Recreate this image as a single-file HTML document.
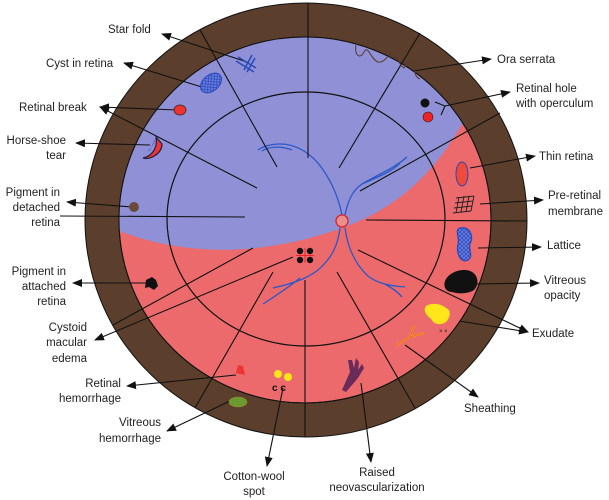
<!DOCTYPE html>
<html><head><meta charset="utf-8"><style>
html,body{margin:0;padding:0;background:#fff;}
svg{display:block;}
text{font-family:"Liberation Sans",sans-serif;font-size:11.5px;fill:#222;}
</style></head><body>
<svg width="609" height="500" viewBox="0 0 609 500" xmlns="http://www.w3.org/2000/svg">
<defs>
<marker id="a" markerWidth="10" markerHeight="8" refX="9" refY="4" orient="auto" markerUnits="userSpaceOnUse"><path d="M0,0 L10,4 L0,8 z" fill="#111"/></marker>
<clipPath id="disk"><ellipse cx="305" cy="220" rx="186" ry="183"/></clipPath>
<pattern id="hatch" width="4" height="4" patternUnits="userSpaceOnUse"><rect width="4" height="4" fill="#6f7fe0"/><path d="M0,0 L4,4 M4,0 L0,4" stroke="#2d4fc0" stroke-width="0.8"/></pattern>
</defs>
<ellipse cx="306" cy="220" rx="221" ry="217" fill="#5b3f2c" stroke="#111" stroke-width="1"/>
<ellipse cx="305" cy="220" rx="186" ry="183" fill="#ec6a6c" stroke="#111" stroke-width="1"/>
<path clip-path="url(#disk)" d="M110,0 L110,227 C180,258 260,255 330,232 C400,210 440,170 475,100 L520,0 Z" fill="#8f90d6"/>
<ellipse cx="305" cy="220" rx="186" ry="183" fill="none" stroke="#111" stroke-width="1"/>
<ellipse cx="306" cy="219" rx="139" ry="127" fill="none" stroke="#111" stroke-width="1.2"/>
<!-- vessels -->
<g fill="none" stroke="#2a58c8" stroke-width="1.3">
<path d="M342,215 C338,195 330,178 318,163 C308,152 295,144 280,144 C270,144 262,147 258,150"/>
<path d="M262,151 C270,146 282,146 292,150"/>
<path d="M345,215 C348,200 353,190 362,184 C375,176 395,168 407,157"/>
<path d="M362,184 C375,178 392,172 400,163"/>
<path d="M340,228 C338,245 332,258 318,270 C305,280 290,284 273,288"/>
<path d="M300,278 C288,288 275,296 263,304"/>
<path d="M345,228 C348,250 356,265 368,276 C378,284 392,286 405,287"/>
<path d="M385,284 C392,288 398,292 402,297"/>
</g>
<circle cx="342" cy="221" r="6" fill="#e98f8f" stroke="#d22" stroke-width="1.3"/>
<!-- spokes -->
<g stroke="#111" stroke-width="1.1" fill="none">
<line x1="277" y1="167" x2="200" y2="30"/>
<line x1="308" y1="158" x2="308" y2="3"/>
<line x1="339" y1="168" x2="420" y2="33"/>
<line x1="360" y1="191" x2="500" y2="113"/>
<line x1="366" y1="220" x2="527" y2="221"/>
<line x1="337" y1="272" x2="415" y2="408"/>
<line x1="305" y1="280" x2="305" y2="437"/>
<line x1="273" y1="272" x2="195" y2="408"/>
<line x1="253" y1="248" x2="113" y2="325"/>
<line x1="245" y1="217" x2="60" y2="216"/>
</g>
<!-- arrows -->
<g stroke="#111" stroke-width="1.1" fill="none" marker-end="url(#a)">
<line x1="257" y1="188" x2="100" y2="107"/>
<line x1="177" y1="110" x2="100" y2="107"/>
<line x1="247" y1="62" x2="162" y2="34"/>
<line x1="205" y1="88" x2="124" y2="63"/>
<line x1="150" y1="145" x2="76" y2="143"/>
<line x1="132" y1="207" x2="67" y2="202"/>
<line x1="150" y1="283" x2="73" y2="283"/>
<line x1="293" y1="257" x2="95" y2="340"/>
<line x1="236" y1="375" x2="127" y2="386"/>
<line x1="230" y1="401" x2="167" y2="431"/>
<line x1="283" y1="388" x2="267" y2="466"/>
<line x1="361" y1="383" x2="371" y2="462"/>
<line x1="405" y1="345" x2="478" y2="397"/>
<line x1="358" y1="250" x2="528" y2="332"/>
<line x1="459" y1="321" x2="528" y2="332"/>
<line x1="475" y1="284" x2="539" y2="283"/>
<line x1="478" y1="248" x2="541" y2="247"/>
<line x1="480" y1="204" x2="543" y2="200"/>
<line x1="470" y1="168" x2="535" y2="156"/>
<line x1="445" y1="106" x2="510" y2="92"/>
<line x1="413" y1="71" x2="491" y2="59"/>
</g>
<!-- icons -->
<g stroke="#2848b8" stroke-width="1.5" fill="none"><path d="M238,57 L256,68 M236,61 L254,72 M244,70 L252,55 M247,72 L255,58"/></g>
<ellipse cx="211" cy="83" rx="8" ry="12" transform="rotate(50 211 83)" fill="url(#hatch)" stroke="#2848b8"/>
<ellipse cx="180" cy="110" rx="6" ry="5" fill="#e33" stroke="#422" stroke-width="0.8"/>
<path d="M156,137 C158,148 152,156 143,158 C150,160 162,154 162,144 Z" fill="#e33" stroke="#224" stroke-width="1.2"/>
<path d="M156,137 C154,145 150,150 146,152 L150,150 Z" fill="#3448c0"/>
<circle cx="134" cy="207" r="5" fill="#6a4a3a"/>
<path d="M356,45 C354,55 360,60 364,52 C368,44 371,60 378,62 C386,64 389,49 395,56 C400,62 400,66 404,68 C408,62 410,56 413,62 C415,70 414,77 420,79" fill="none" stroke="#5a3a2a" stroke-width="1"/>
<circle cx="425" cy="103" r="4.5" fill="#111"/>
<circle cx="428" cy="117" r="5" fill="#e22" stroke="#222" stroke-width="0.6"/>
<path d="M435,102 L445,106 L441,115" fill="none" stroke="#111" stroke-width="1.1"/>
<ellipse cx="462" cy="174" rx="6" ry="12" fill="#f04a3a" stroke="#2848b8"/>
<g stroke="#222" stroke-width="0.9" fill="none"><path d="M456,198 L474,196 M455,203 L473,201 M454,208 L472,206 M453,213 L471,211 M459,197 L456,213 M464,196 L461,212 M469,196 L466,212 M474,196 L471,211"/></g>
<path d="M460,228 C470,226 474,236 470,244 C468,250 474,256 468,260 C460,264 456,252 458,244 C460,238 454,230 460,228 Z" fill="url(#hatch)" stroke="#2848b8" stroke-width="1.2"/>
<path d="M446,279 C450,272 462,268 470,271 C478,274 480,284 474,290 C468,294 458,294 452,292 C446,292 442,286 446,279 Z" fill="#111"/>
<path d="M426,306 C432,302 442,304 446,308 C452,310 450,318 446,322 C440,326 434,324 432,320 C428,316 422,312 426,306 Z" fill="#ffe61a"/>
<text x="439" y="333" style="font-size:6px">× ×</text>
<g stroke="#f0a020" stroke-width="2" fill="none"><path d="M397,345 L410,337 L414,326 M410,337 L424,333"/></g>
<g stroke="#e43" stroke-width="0.6" fill="none"><path d="M397,345 L410,337 L414,326 M410,337 L424,333"/></g>
<path d="M342,390 L350,372 L348,360 L352,360 L354,368 L356,358 L359,362 L358,370 L362,364 L364,368 L358,378 L346,392 Z" fill="#6a2a5a"/>
<circle cx="278" cy="374" r="4" fill="#ffe61a"/><circle cx="288" cy="377" r="4" fill="#ffe61a"/>
<text x="272" y="391" style="font-size:10px;font-weight:bold;fill:#111">c c</text>
<path d="M236,373 L238,365 L243,366 L245,375 Z" fill="#e33"/>
<ellipse cx="238" cy="402" rx="9" ry="5" fill="#6a9a30" stroke="#9a8a30" stroke-width="0.6"/>
<path d="M146,280 L152,277 L156,280 L158,286 L154,290 L149,287 L145,288 Z" fill="#111"/>
<g fill="#111"><circle cx="300" cy="251" r="3.2"/><circle cx="310" cy="251" r="3.2"/><circle cx="300" cy="260" r="3.2"/><circle cx="310" cy="260" r="3.2"/></g>
<path d="M305,248 L305,263 M296,255.5 L314,255.5" stroke="#e22" stroke-width="0.9"/>
<!-- labels -->
<text x="108" y="33">Star fold</text>
<text x="46" y="67">Cyst in retina</text>
<text x="19" y="111">Retinal break</text>
<g text-anchor="end">
<text x="66" y="144">Horse-shoe</text><text x="66" y="159">tear</text>
<text x="60" y="196">Pigment in</text><text x="60" y="211">detached</text><text x="60" y="226">retina</text>
<text x="66" y="275">Pigment in</text><text x="66" y="290">attached</text><text x="66" y="305">retina</text>
<text x="87" y="331">Cystoid</text><text x="87" y="346">macular</text><text x="87" y="362">edema</text>
<text x="121" y="387">Retinal</text><text x="121" y="402">hemorrhage</text>
<text x="161" y="426">Vitreous</text><text x="161" y="442">hemorrhage</text>
</g>
<g text-anchor="middle">
<text x="254" y="480">Cotton-wool</text><text x="254" y="495">spot</text>
<text x="377" y="476">Raised</text><text x="377" y="491">neovascularization</text>
</g>
<text x="464" y="412">Sheathing</text>
<text x="532" y="337">Exudate</text>
<text x="544" y="284">Vitreous</text><text x="544" y="299">opacity</text>
<text x="547" y="249">Lattice</text>
<text x="548" y="199">Pre-retinal</text><text x="548" y="215">membrane</text>
<text x="539" y="160">Thin retina</text>
<text x="516" y="92">Retinal hole</text><text x="516" y="107">with operculum</text>
<text x="497" y="63">Ora serrata</text>
</svg>
</body></html>
